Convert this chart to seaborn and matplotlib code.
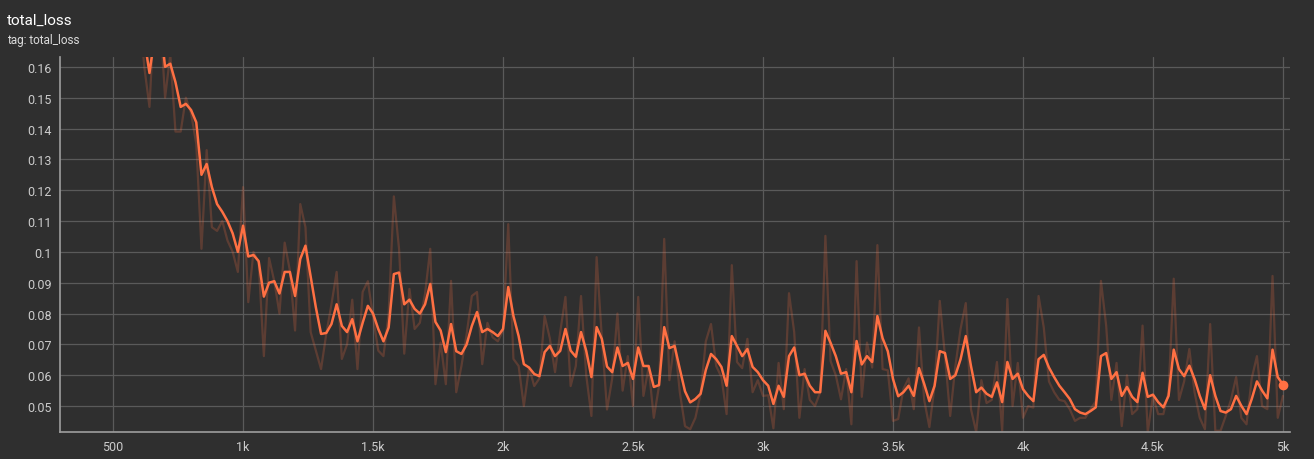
import numpy as np
import pandas as pd
import matplotlib
matplotlib.use("Agg")
import matplotlib.pyplot as plt
import seaborn as sns
from matplotlib.ticker import FuncFormatter

steps = np.arange(600, 5001, 20)

smoothed = [
    0.175, 0.169, 0.158, 0.170, 0.175,
    0.160, 0.161, 0.155, 0.147, 0.148, 0.146, 0.142, 0.125, 0.1285, 0.121, 0.1155, 0.113, 0.110, 0.106, 0.100,
    0.1085, 0.0985, 0.099, 0.097, 0.0855, 0.090, 0.0905, 0.0865, 0.0935, 0.0935, 0.0857, 0.0977, 0.102, 0.092,
    0.082, 0.0734, 0.0737, 0.0766, 0.083, 0.076, 0.074, 0.0782, 0.071, 0.077, 0.0825, 0.080, 0.075, 0.071,
    0.0755, 0.0928, 0.0933, 0.083, 0.0845, 0.0815, 0.080,
    # B
    0.083, 0.0896, 0.0773, 0.0745, 0.0675, 0.0766, 0.0678, 0.0669, 0.070, 0.076, 0.0805, 0.074, 0.075, 0.074,
    0.0727, 0.075, 0.0886, 0.0792, 0.0727, 0.0636, 0.0625, 0.0604, 0.0597, 0.0675, 0.0695, 0.0662, 0.0679,
    0.075, 0.068, 0.066, 0.074, 0.0679, 0.0594, 0.0756, 0.0718, 0.0628, 0.061, 0.069, 0.063, 0.064, 0.0588,
    0.069, 0.063, 0.063, 0.0562, 0.0568, 0.0756, 0.0688, 0.0695, 0.062, 0.0548, 0.0512, 0.0523, 0.054, 0.0617,
    0.0669, 0.0652,
    # C
    0.0627, 0.0566, 0.0727, 0.0695, 0.0662, 0.0685, 0.0627, 0.061, 0.0584, 0.0566, 0.0507, 0.0566, 0.053,
    0.0662, 0.069, 0.060, 0.0605, 0.0566, 0.0545, 0.0545, 0.0744, 0.0705, 0.0662, 0.0605, 0.061, 0.0545,
    0.0711, 0.0635, 0.0662, 0.0643, 0.0792, 0.072, 0.0678, 0.0588, 0.0532, 0.0545, 0.0566, 0.0533, 0.0623,
    0.0572, 0.0516, 0.0566, 0.0678, 0.0672, 0.0588, 0.060, 0.0652, 0.0727, 0.063, 0.0545, 0.056, 0.054, 0.053,
    0.0577, 0.0513, 0.0643, 0.0588, 0.0605,
    # D
    0.0555, 0.0533, 0.0516, 0.0652, 0.0666, 0.0625, 0.0594, 0.0566, 0.0545, 0.0523, 0.049, 0.0479, 0.0474,
    0.0484, 0.0496, 0.0662, 0.0672, 0.0588, 0.061, 0.0533, 0.0562, 0.053, 0.0513, 0.0608, 0.053, 0.0537,
    0.0513, 0.0496, 0.0533, 0.0683, 0.062, 0.0597, 0.0631, 0.0588, 0.0533, 0.049, 0.060, 0.0533, 0.0484,
    0.0479, 0.049, 0.0533, 0.0501, 0.0474, 0.0523, 0.058, 0.055, 0.0525, 0.0683, 0.0594, 0.057,
]

raw = [
    0.180, 0.160, 0.147, 0.180, 0.178,
    0.150, 0.164, 0.139, 0.139, 0.150, 0.145, 0.135, 0.101, 0.133, 0.108, 0.1068, 0.110, 0.1037, 0.100, 0.0935,
    0.121, 0.0837, 0.100, 0.0965, 0.0662, 0.098, 0.0905, 0.080, 0.103, 0.094, 0.0745, 0.1155, 0.108, 0.074,
    0.068, 0.062, 0.0734, 0.083, 0.0935, 0.0653, 0.070, 0.0845, 0.062, 0.087, 0.0905, 0.079, 0.068, 0.0662,
    0.080, 0.118, 0.101, 0.067, 0.088, 0.075, 0.077,
    # B
    0.0864, 0.101, 0.0571, 0.0706, 0.0571, 0.0906, 0.0545, 0.063, 0.0733, 0.0857, 0.087, 0.0636, 0.077, 0.0723,
    0.071, 0.0745, 0.109, 0.0653, 0.063, 0.050, 0.0625, 0.0565, 0.059, 0.0792, 0.072, 0.061, 0.074,
    0.0854, 0.0565, 0.063, 0.0857, 0.060, 0.0468, 0.0983, 0.0723, 0.0489, 0.059, 0.080, 0.055, 0.0662, 0.050,
    0.0854, 0.0533, 0.0625, 0.0462, 0.0565, 0.1042, 0.0584, 0.071, 0.0545, 0.0435, 0.0425, 0.0462, 0.054, 0.071,
    0.0766, 0.063,
    # C
    0.0594, 0.0474, 0.0957, 0.0643, 0.0623, 0.0718, 0.0545, 0.0584, 0.0533, 0.0535, 0.0428, 0.064, 0.049,
    0.0866, 0.074, 0.0462, 0.062, 0.052, 0.050, 0.0545, 0.1052, 0.0646, 0.060, 0.0522, 0.062, 0.0441,
    0.097, 0.053, 0.0706, 0.0625, 0.1022, 0.062, 0.0616, 0.0452, 0.0458, 0.0555, 0.059, 0.049, 0.0755,
    0.052, 0.0432, 0.0565, 0.0841, 0.0662, 0.0468, 0.063, 0.075, 0.0834, 0.049, 0.0416, 0.0584, 0.051, 0.052,
    0.0643, 0.042, 0.0847, 0.050, 0.064,
    # D
    0.0462, 0.050, 0.0495, 0.0857, 0.0755, 0.058, 0.0545, 0.052, 0.0516, 0.049, 0.0452, 0.0462, 0.0462,
    0.049, 0.0516, 0.0906, 0.0761, 0.052, 0.064, 0.0435, 0.060, 0.0474, 0.049, 0.0761, 0.0416, 0.0533,
    0.0474, 0.0474, 0.0545, 0.0913, 0.052, 0.058, 0.0685, 0.0545, 0.0462, 0.0425, 0.0766, 0.042, 0.042,
    0.0468, 0.052, 0.0594, 0.0462, 0.0441, 0.059, 0.0662, 0.050, 0.049, 0.0922, 0.0462, 0.0533,
]

x_ticks = [500, 1000, 1500, 2000, 2500, 3000, 3500, 4000, 4500, 5000]
x_labels = ["500", "1k", "1.5k", "2k", "2.5k", "3k", "3.5k", "4k", "4.5k", "5k"]
y_ticks = [0.05, 0.06, 0.07, 0.08, 0.09, 0.10, 0.11, 0.12, 0.13, 0.14, 0.15, 0.16]

n = min(len(steps), len(smoothed), len(raw))
df = pd.DataFrame({"step": steps[:n], "smoothed": smoothed[:n], "raw": raw[:n]})

bg = "#2f2f2f"
sns.set_theme(style="dark")
plt.rcParams["font.family"] = ["Roboto", "DejaVu Sans"]

fig = plt.figure(figsize=(13.14, 4.6), dpi=100, facecolor=bg)
ax = fig.add_axes([0.0457, 0.0587, 0.9360, 0.8153])
ax.set_facecolor(bg)

sns.lineplot(data=df, x="step", y="raw", ax=ax, color="#ff7043", alpha=0.22, linewidth=1.6)
sns.lineplot(data=df, x="step", y="smoothed", ax=ax, color="#ff7043", linewidth=1.8)
ax.plot(df["step"].iloc[-1], df["smoothed"].iloc[-1], "o", color="#ff7043", markersize=6)

ax.set_xlim(296, 5027)
ax.set_ylim(0.0416, 0.1632)
ax.set_xticks(x_ticks)
ax.set_xticklabels(x_labels)
ax.set_yticks(y_ticks)
ax.yaxis.set_major_formatter(FuncFormatter(lambda v, p: f"{v:.2f}".rstrip("0") if abs(v - 0.1) < 1e-9 else f"{v:.2f}"))
ax.grid(True, color="#5a5a5a", linewidth=0.9)
ax.tick_params(colors="#cccccc", labelsize=9, length=0, pad=6)
ax.set_xlabel("")
ax.set_ylabel("")
for s in ["top", "right"]:
    ax.spines[s].set_visible(False)
for s in ["left", "bottom"]:
    ax.spines[s].set_color("#9a9a9a")

fig.text(0.005, 0.945, "total_loss", color="white", fontsize=11)
fig.text(0.005, 0.905, "tag: total_loss", color="#dddddd", fontsize=8.5)

fig.savefig("out.png", dpi=100, facecolor=bg)
